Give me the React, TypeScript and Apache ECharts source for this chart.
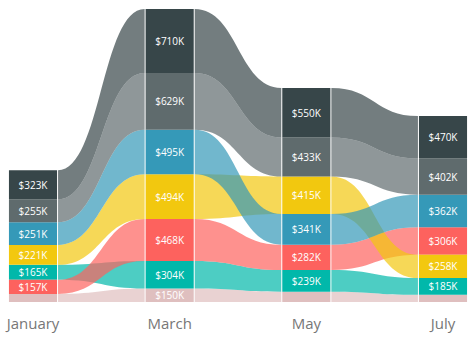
import React, { useEffect, useRef } from "react";
import * as echarts from "echarts";

const months = ["January", "March", "May", "July"];
const seriesNames = ["Pink", "Teal", "Red", "Yellow", "Blue", "Grey", "Dark"];
const seriesColors = ["#DFBFBF", "#01B8AA", "#FD625E", "#F2C80F", "#3599B8", "#5F6B6D", "#374649"];
const pinkValues = [90, 150, 115, 80];
const tealValues = [165, 304, 239, 185];
const redValues = [157, 468, 282, 306];
const yellowValues = [221, 494, 415, 258];
const blueValues = [251, 495, 341, 362];
const greyValues = [255, 629, 433, 402];
const darkValues = [323, 710, 550, 470];
const allValues = [pinkValues, tealValues, redValues, yellowValues, blueValues, greyValues, darkValues];
const labelMin = 140;

function buildStacks() {
  // stacks[col][series] = [bottom, top]
  const stacks: number[][][] = months.map((_, c) => {
    const order = allValues.map((v, s) => s).sort((a, b) => allValues[a][c] - allValues[b][c]);
    const res: number[][] = new Array(allValues.length);
    let acc = 0;
    for (const s of order) {
      res[s] = [acc, acc + allValues[s][c]];
      acc += allValues[s][c];
    }
    return res;
  });
  return stacks;
}

export default function App() {
  const ref = useRef<HTMLDivElement>(null);
  useEffect(() => {
    if (!ref.current) return;
    const chart = echarts.init(ref.current, undefined, { renderer: "svg" });
    const stacks = buildStacks();
    const series = seriesNames.map((name, s) => ({
      type: "custom",
      name,
      clip: false,
      data: months.map((m, c) => {
        const next = c < months.length - 1 ? stacks[c + 1][s] : [0, 0];
        return [c, allValues[s][c], stacks[c][s][0], stacks[c][s][1], next[0], next[1]];
      }),
      renderItem: (params: any, api: any) => {
        const c = api.value(0);
        const v = api.value(1);
        const b0 = api.value(2);
        const t0 = api.value(3);
        const nb = api.value(4);
        const nt = api.value(5);
        const p0 = api.coord([c, b0]);
        const p1 = api.coord([c, t0]);
        const spacing = api.coord([1, 0])[0] - api.coord([0, 0])[0];
        const hw = spacing * 0.176;
        const cx = p0[0];
        const children: any[] = [];
        if (c < months.length - 1) {
          const q0 = api.coord([c + 1, nb]);
          const q1 = api.coord([c + 1, nt]);
          const x0 = cx + hw + 1;
          const x1 = q0[0] - hw - 1;
          const xm = (x0 + x1) / 2;
          const d =
            `M ${x0} ${p1[1]} C ${xm} ${p1[1]} ${xm} ${q1[1]} ${x1} ${q1[1]} ` +
            `L ${x1} ${q0[1]} C ${xm} ${q0[1]} ${xm} ${p0[1]} ${x0} ${p0[1]} Z`;
          children.push({
            type: "path",
            shape: { pathData: d },
            style: { fill: seriesColors[s], opacity: 0.7 },
          });
        }
        children.push({
          type: "rect",
          shape: { x: cx - hw, y: p1[1], width: hw * 2, height: p0[1] - p1[1] },
          style: { fill: seriesColors[s] },
        });
        if (v >= labelMin) {
          children.push({
            type: "text",
            x: cx,
            y: (p0[1] + p1[1]) / 2,
            style: {
              text: "$" + v + "K",
              fill: "#ffffff",
              font: "10px 'Open Sans', sans-serif",
              align: "center",
              verticalAlign: "middle",
            },
          });
        }
        return { type: "group", children };
      },
    }));
    chart.setOption({
      animation: false,
      grid: { left: 33, right: 31, top: 9, bottom: 36, containLabel: false },
      xAxis: {
        type: "category",
        data: months,
        boundaryGap: false,
        axisLine: { show: false },
        axisTick: { show: false },
        splitLine: { show: false },
        axisLabel: {
          color: "#777777",
          fontSize: 15,
          fontFamily: "'Open Sans', sans-serif",
          margin: 13,
        },
      },
      yAxis: {
        type: "value",
        min: 0,
        max: 3250,
        show: false,
        splitLine: { show: false },
      },
      series,
    });
    return () => chart.dispose();
  }, []);
  return <div ref={ref} style={{ width: 474, height: 338, position: "absolute", left: 0, top: 0 }} />;
}
